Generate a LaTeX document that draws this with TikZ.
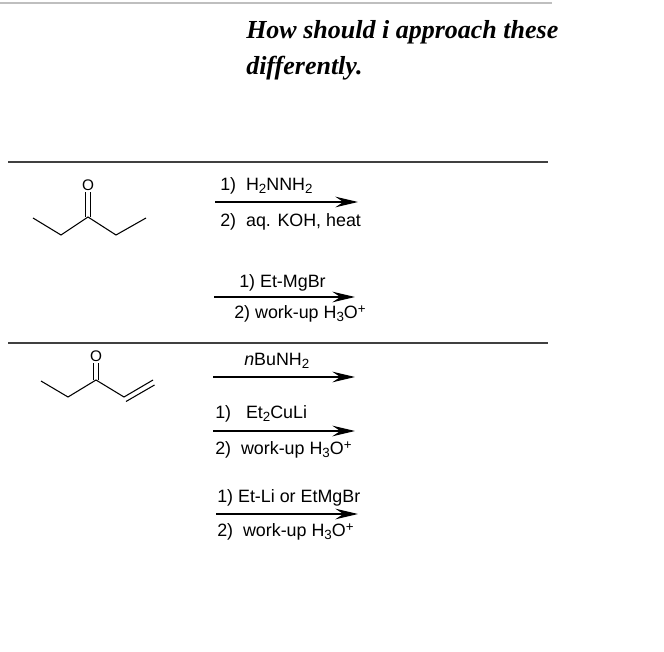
\documentclass[tikz,border=0pt]{standalone}
\usepackage{fontspec}
\setmainfont{Liberation Sans}
\newfontfamily\headfont{Liberation Serif}
\usetikzlibrary{arrows.meta}
\newcommand{\sbs}[1]{\raisebox{-0.35ex}{\fontsize{10}{10}\selectfont #1}}
\newcommand{\sps}[1]{\raisebox{0.5ex}{\fontsize{10}{10}\selectfont #1}}
\begin{document}
\begin{tikzpicture}[x=0.75pt,y=-0.75pt,
  bond/.style={line width=0.8pt},
  rxn/.style={line width=1pt,-{Stealth[length=17pt,width=8pt,inset=6pt]}},
  lab/.style={inner sep=0pt,font=\fontsize{13.4}{15}\selectfont,anchor=west},
  sep/.style={line width=0.9pt,draw=black!75}]
\useasboundingbox (0,0) rectangle (664,652);
\draw[black!25,line width=0.8pt] (0,3) -- (552,3);
\node[inner sep=0pt,anchor=north west,align=left,font=\headfont\bfseries\itshape\fontsize{19.5}{27}\selectfont] (head) at (246,20) {How should i approach these\\differently.};
\coordinate (s1a) at (8,162); \coordinate (s1b) at (548,162);
\coordinate (s2a) at (8,343); \coordinate (s2b) at (548,343);
\draw[sep] (s1a) -- (s1b);
\draw[sep] (s2a) -- (s2b);
% molecule 1
\node[font=\fontsize{11.5}{12}\selectfont,inner sep=1pt] (o1) at (88,185) {O};
\coordinate (c1) at (88,217);
\draw[bond] (33,218) -- (61,235) -- (c1) -- (116,235) -- (146,218);
\draw[bond] ([xshift=-1.6]o1.south) -- ([xshift=-1.6]c1);
\draw[bond] ([xshift=1.6]o1.south) -- ([xshift=1.6]c1);
% molecule 2
\node[font=\fontsize{11.5}{12}\selectfont,inner sep=1pt] (o2) at (96,356) {O};
\coordinate (c2) at (96,380);
\draw[bond] (41,381) -- (68,397) -- (c2) -- (124,397) -- (153,380);
\draw[bond] ([xshift=-1.6]o2.south) -- ([xshift=-1.6]c2);
\draw[bond] ([xshift=1.6]o2.south) -- ([xshift=1.6]c2);
\draw[bond] (126,401.5) -- (154.5,385);
% arrows
\coordinate (a1) at (215,202); \coordinate (b1) at (358,202);
\draw[rxn] (a1) -- (b1);
\node[lab] (t1a) at (220,186) {1)\ \ H\sbs{2}NNH\sbs{2}};
\node[lab] (t1b) at (220,222) {2)\ \ aq. KOH, heat};
\coordinate (a2) at (214,297); \coordinate (b2) at (355,297);
\draw[rxn] (a2) -- (b2);
\node[lab] (t2a) at (239,283) {1) Et-MgBr};
\node[lab] (t2b) at (234,314) {2) work-up H\sbs{3}O\sps{+}};
\coordinate (a3) at (213,377); \coordinate (b3) at (355,377);
\draw[rxn] (a3) -- (b3);
\node[lab] (t3) at (244,361) {\textit{n}BuNH\sbs{2}};
\coordinate (a4) at (213,431); \coordinate (b4) at (355,431);
\draw[rxn] (a4) -- (b4);
\node[lab] (t4a) at (215,414) {1)\ \ \ Et\sbs{2}CuLi};
\node[lab] (t4b) at (215,450) {2)\ \ work-up H\sbs{3}O\sps{+}};
\coordinate (a5) at (216,514); \coordinate (b5) at (358,514);
\draw[rxn] (a5) -- (b5);
\node[lab] (t5a) at (217,498) {1) Et-Li or EtMgBr};
\node[lab] (t5b) at (217,532) {2)\ \ work-up H\sbs{3}O\sps{+}};
\end{tikzpicture}
\end{document}
